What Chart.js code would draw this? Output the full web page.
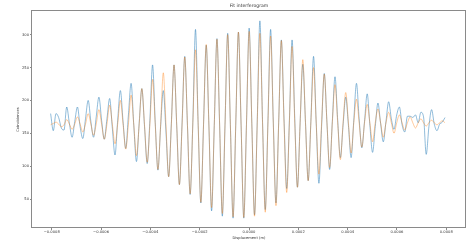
<!DOCTYPE html>
<html>
<head>
<meta charset="utf-8">
<script src="https://cdn.jsdelivr.net/npm/chart.js@4.4.1/dist/chart.umd.min.js"></script>
<style>
  html, body { margin: 0; padding: 0; background: #fff; }
  canvas { display: block; }
</style>
</head>
<body>
<canvas id="chart" width="474" height="246"></canvas>
<script>
// Data
const titleText = "Fit interferogram";
const xTitle = "Displacement (m)";
const yTitle = "Coincidences";

// samples are evenly spaced in displacement (m)
const sampleStart = -804.5e-6;
const sampleStep = 10.88e-6;

const xTicks = [-0.0008, -0.0006, -0.0004, -0.0002, 0, 0.0002, 0.0004, 0.0006, 0.0008];
const xTickLabels = ["\u22120.0008", "\u22120.0006", "\u22120.0004", "\u22120.0002", "0.0000", "0.0002", "0.0004", "0.0006", "0.0008"];
const yTicks = [50, 100, 150, 200, 250, 300];

// measured coincidences
const counts = [
  180, 154,
  180, 174, 158, 155,
  190, 165, 144, 168,
  190, 160, 142, 172,
  200, 168, 144, 175,
  205, 170, 141, 172,
  203, 158, 117, 170,
  215, 168, 127, 178,
  226, 162, 107, 165,
  218, 160, 104, 170,
  254, 166, 94, 160,
  215, 152, 84, 165,
  254, 162, 72, 166,
  267, 162, 57, 166,
  308, 162, 44, 164,
  284, 161, 32, 162,
  294, 161, 24, 162,
  302, 163, 21, 162,
  304, 162, 21, 164,
  310, 165, 26, 166,
  321, 166, 34, 168,
  308, 167, 44, 166,
  292, 172, 66, 170,
  292, 172, 68, 166,
  255, 166, 78, 168,
  267, 165, 74, 160,
  241, 166, 95, 168,
  236, 170, 113, 162,
  205, 162, 113, 170,
  226, 172, 128, 168,
  210, 162, 121, 160,
  196, 165, 137, 168,
  198, 172, 156, 178,
  190, 163, 152, 176,
  176, 174, 178, 166,
  182, 175, 118, 160,
  186, 164, 154, 164,
  167, 174
];

// fitted curve
const fit = [
  163, 165,
  167, 164, 160, 163,
  171, 164, 156, 164,
  175, 164, 152, 164,
  180, 164, 147, 164,
  186, 164, 141, 164,
  193, 164, 134, 164,
  200, 164, 126, 164,
  208, 163, 116, 163,
  218, 163, 106, 163,
  232, 163, 95, 163,
  242, 163, 84, 163,
  254, 163, 72, 163,
  266, 163, 58, 163,
  277, 163, 45, 163,
  285, 163, 37, 163,
  293, 163, 28, 163,
  300, 163, 23, 163,
  304, 163, 22, 163,
  305, 163, 24, 163,
  302, 164, 30, 164,
  298, 165, 40, 165,
  291, 166, 60, 166,
  282, 166, 68, 166,
  262, 166, 78, 166,
  250, 166, 88, 166,
  240, 166, 98, 166,
  224, 166, 110, 166,
  212, 166, 120, 166,
  202, 166, 129, 166,
  194, 166, 137, 166,
  187, 166, 144, 166,
  182, 166, 150, 166,
  178, 166, 155, 166,
  175, 166, 158, 166,
  172, 166, 161, 166,
  170, 166, 163, 166,
  169, 166
];

const toPoints = arr => arr.map((v, i) => ({ x: sampleStart + i * sampleStep, y: v }));

const spineColor = "#8a8a8a";
const textColor = "#333";
const fontFamily = "'DejaVu Sans', sans-serif";

// frame + title drawn over the plot area
const framePlugin = {
  id: "frame",
  afterDraw(chart) {
    const { ctx, chartArea } = chart;
    ctx.save();
    ctx.strokeStyle = spineColor;
    ctx.lineWidth = 1;
    ctx.strokeRect(chartArea.left - 0.5, chartArea.top - 0.5,
      chartArea.right - chartArea.left, chartArea.bottom - chartArea.top);
    ctx.fillStyle = textColor;
    ctx.font = "4.6px " + fontFamily;
    ctx.textAlign = "center";
    ctx.textBaseline = "middle";
    ctx.fillText(titleText, (chartArea.left + chartArea.right) / 2, 5.5);
    ctx.restore();
  }
};

new Chart(document.getElementById("chart"), {
  type: "line",
  data: {
    datasets: [
      {
        label: "data",
        data: toPoints(counts),
        borderColor: "rgba(31, 119, 180, 0.55)",
        borderWidth: 0.9,
        pointRadius: 0,
        cubicInterpolationMode: "monotone",
        order: 2
      },
      {
        label: "fit",
        data: toPoints(fit),
        borderColor: "rgba(255, 127, 14, 0.45)",
        borderWidth: 0.9,
        pointRadius: 0,
        cubicInterpolationMode: "monotone",
        order: 1
      }
    ]
  },
  options: {
    responsive: false,
    animation: false,
    devicePixelRatio: 1,
    layout: { padding: { left: 0, right: 8, top: 11, bottom: 0 } },
    plugins: {
      legend: { display: false },
      tooltip: { enabled: false }
    },
    scales: {
      x: {
        type: "linear",
        min: -0.00088,
        max: 0.00088,
        afterFit: s => { s.height = 18; },
        afterBuildTicks: s => { s.ticks = xTicks.map(v => ({ value: v })); },
        border: { display: false },
        grid: { drawOnChartArea: false, drawTicks: true, tickLength: 2, color: spineColor },
        ticks: {
          autoSkip: false,
          maxRotation: 0,
          padding: 0,
          color: textColor,
          font: { family: fontFamily, size: 3.7 },
          callback: (v) => {
            const i = xTicks.findIndex(t => Math.abs(t - v) < 1e-9);
            return i >= 0 ? xTickLabels[i] : "";
          }
        },
        title: {
          display: true,
          text: xTitle,
          color: textColor,
          font: { family: fontFamily, size: 3.7 },
          padding: { top: 0, bottom: 6 }
        }
      },
      y: {
        min: 6,
        max: 336,
        afterFit: s => { s.width = 32; },
        afterBuildTicks: s => { s.ticks = yTicks.map(v => ({ value: v })); },
        border: { display: false },
        grid: { drawOnChartArea: false, drawTicks: true, tickLength: 2, color: spineColor },
        ticks: {
          autoSkip: false,
          padding: 1,
          color: textColor,
          font: { family: fontFamily, size: 3.7 }
        },
        title: {
          display: true,
          text: yTitle,
          color: textColor,
          font: { family: fontFamily, size: 3.7 },
          padding: { top: 15.8, bottom: 0 }
        }
      }
    }
  },
  plugins: [framePlugin]
});
</script>
</body>
</html>
